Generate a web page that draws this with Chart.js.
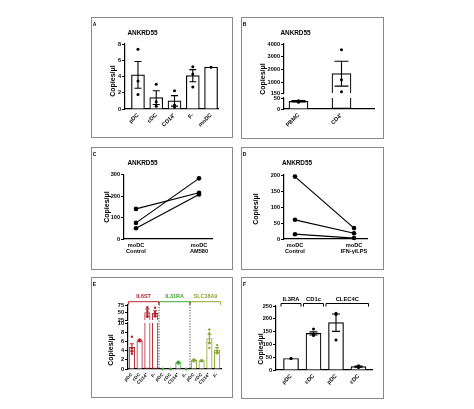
<!DOCTYPE html>
<html>
<head>
<meta charset="utf-8">
<script src="https://cdn.jsdelivr.net/npm/chart.js@4.4.1/dist/chart.umd.min.js"></script>
<style>
  html, body { margin: 0; padding: 0; background: #fff; }
  body { position: relative; width: 474px; height: 409px; overflow: hidden; font-family: "Liberation Sans", Arial, sans-serif; }
  canvas { position: absolute; }
  .box { position: absolute; border: 1px solid #8a8a8a; box-sizing: border-box; }
  .lbl { position: absolute; transform: translate(-50%, -50%); font-weight: bold; white-space: nowrap; line-height: 1; color: #000; }
  .letter { font-size: 5px; }
  .title { font-size: 6.4px; }
  .ytitle { font-size: 7px; transform: translate(-50%, -50%) rotate(-90deg); }
</style>
</head>
<body>
<script>
// A: ANKRD55 copies per subset
const aLabels = ["pDC", "cDC", "CD14⁺", "F-", "moDC"];
const aMeans = [4.2, 1.4, 1.0, 4.1, 5.15];
const aSems = [1.65, 0.85, 0.65, 0.75, 0];
const aPoints = [[7.35, 3.45, 1.8], [3.05, 0.9, 0.35], [2.25, 0.5, 0.2], [5.2, 4.3, 2.7], [5.15]];
const aTicks = [0, 2, 4, 6, 8];

// B: PBMC vs CD4+ (broken axis)
const bLabels = ["PBMC", "CD4⁺"];
const bMeans = [35, 1670];
const bSems = [3, 980];
const bPoints = [[31, 38, 36], [3550, 1200, 250]];
const bLowTicks = [0, 50];
const bHighTicks = [150, 1000, 2000, 3000, 4000];

// C: moDC control vs AM580, one line per donor
const cLabels = [["moDC", "Control"], ["moDC", "AM580"]];
const cDonors = [[140, 215], [75, 282], [50, 207]];
const cTicks = [0, 100, 200, 300];

// D: moDC control vs IFN-γ/LPS
const dLabels = [["moDC", "Control"], ["moDC", "IFN-γ/LPS"]];
const dDonors = [[195, 34], [60, 18], [15, 3]];
const dTicks = [0, 50, 100, 150, 200];

// E: three genes x four subsets (broken axis)
const eGenes = ["IL6ST", "IL31RA", "SLC38A9"];
const eGeneColors = ["#b3242f", "#3fa535", "#8ba731"];
const eLabels = ["pDC", "cDC", "CD14⁺", "F-", "pDC", "cDC", "CD14⁺", "F-", "pDC", "cDC", "CD14⁺", "F-"];
const eMeans = [4.7, 6.2, 50, 47, 0, 0, 1.4, 0, 1.9, 1.8, 6.6, 4.1];
const eSems = [0.8, 0.15, 12, 9, 0, 0, 0.12, 0, 0.15, 0.1, 0.9, 0.55];
const ePoints = [[7.0, 4.5, 3.8, 3.3], [6.4, 6.2, 6.0], [68, 55, 45, 35], [66, 52, 44, 37],
  [0, 0, 0], [0, 0, 0], [1.6, 1.4, 1.2], [0, 0, 0],
  [2.1, 1.8, 1.7], [1.9, 1.8, 1.7], [8.6, 7.8, 5.6, 4.6], [5.2, 3.8, 3.4]];
const eLowTicks = [0, 2, 4, 6, 8, 10];
const eHighTicks = [25, 50, 75];

// F: marker genes in pDC / cDC
const fGenes = ["IL3RA", "CD1c", "CLEC4C"];
const fGeneSpans = [[0, 0], [1, 1], [2, 3]];
const fLabels = ["pDC", "cDC", "pDC", "cDC"];
const fMeans = [45, 143, 185, 13];
const fSems = [0, 6, 34, 2];
const fPoints = [[45, 45], [160, 140, 138, 135], [222, 217, 117], [17, 12, 10]];
const fTicks = [0, 50, 100, 150, 200, 250];

const INK = "#000";
Chart.defaults.font.family = '"Liberation Sans", Arial, sans-serif';
Chart.defaults.font.weight = "bold";
Chart.defaults.color = INK;
Chart.defaults.animation = false;

function addText(cls, text, x, y, color) {
  const el = document.createElement("div");
  el.className = "lbl " + cls;
  el.textContent = text;
  el.style.left = x + "px";
  el.style.top = y + "px";
  if (color) el.style.color = color;
  document.body.appendChild(el);
}

function makePanel(g, letter, title) {
  const cv = document.createElement("canvas");
  cv.width = g.w;
  cv.height = g.h;
  Object.assign(cv.style, { left: g.x + "px", top: g.y + "px", width: g.w + "px", height: g.h + "px" });
  document.body.appendChild(cv);
  const frame = document.createElement("div");
  frame.className = "box";
  Object.assign(frame.style, { left: g.x + "px", top: g.y + "px", width: g.w + "px", height: g.h + "px" });
  document.body.appendChild(frame);
  addText("letter", letter, g.x + 3.5, g.y + 7);
  if (title) addText("title", title, g.titleX, g.y + 16);
  addText("ytitle", "Copies/μl", g.yTitle[0], g.yTitle[1]);
  return cv;
}

function dotsOf(points, keep = () => true) {
  return points.flatMap((vals, i) => vals.filter(keep).map((v) => ({ x: i, y: v })));
}

function valueAxis(g, min, max, ticks, extra = {}) {
  return Object.assign({
    type: "linear",
    position: "left",
    min,
    max,
    afterFit: (s) => { s.width = g.left - g.x; },
    afterBuildTicks: (s) => { s.ticks = ticks.map((v) => ({ value: v })); },
    border: { display: true, color: INK, width: 1.2 },
    grid: { display: true, drawOnChartArea: false, drawTicks: true, tickLength: 3, color: INK, lineWidth: 1 },
    ticks: { autoSkip: false, padding: 1, color: INK, font: { size: 5.6, weight: "bold" }, callback: (v) => String(v) }
  }, extra);
}

function indexAxis(g, labels, min, max, rotation, size = 5.6) {
  return {
    type: "linear",
    position: "bottom",
    min,
    max,
    offset: false,
    afterFit: (s) => { s.height = g.y + g.h - g.bottom; },
    afterBuildTicks: (s) => { s.ticks = labels.map((_, i) => ({ value: i })); },
    border: { display: true, color: INK, width: 1.2 },
    grid: { display: false, offset: false, drawTicks: true, tickLength: 2 },
    ticks: {
      autoSkip: false,
      minRotation: rotation,
      maxRotation: rotation,
      padding: 1,
      color: INK,
      font: { size, weight: "bold", lineHeight: 1.15 },
      callback: (v) => labels[v]
    }
  };
}

function baseOptions(g, scales, pluginOpts = {}) {
  return {
    responsive: false,
    animation: false,
    layout: { padding: { left: 0, top: g.top - g.y, right: g.x + g.w - g.right, bottom: 0 } },
    scales,
    plugins: Object.assign({ legend: { display: false }, tooltip: { enabled: false } }, pluginOpts)
  };
}

// mean +/- SEM whiskers, drawn through the chart's own scales
const errorBars = {
  id: "errorBars",
  afterDatasetsDraw(chart, args, opts) {
    const { ctx } = chart;
    const xs = chart.scales.x;
    ctx.save();
    ctx.lineWidth = 1.1;
    (opts.items || []).forEach((it) => {
      if (!it.sem) return;
      const ys = chart.scales[it.axis];
      const x = xs.getPixelForValue(it.x);
      const top = ys.getPixelForValue(it.mean + it.sem);
      const bot = ys.getPixelForValue(Math.max(it.mean - it.sem, ys.min));
      const cap = opts.cap;
      ctx.strokeStyle = it.color || INK;
      ctx.beginPath();
      ctx.moveTo(x, top); ctx.lineTo(x, bot);
      ctx.moveTo(x - cap, top); ctx.lineTo(x + cap, top);
      ctx.moveTo(x - cap, bot); ctx.lineTo(x + cap, bot);
      ctx.stroke();
    });
    ctx.restore();
  }
};

// gene name + bracket over groups of bars
const geneBrackets = {
  id: "geneBrackets",
  afterDraw(chart, args, opts) {
    if (!opts.groups) return;
    const { ctx, chartArea } = chart;
    const xs = chart.scales.x;
    ctx.save();
    ctx.lineWidth = 1;
    ctx.font = `bold ${opts.size}px "Liberation Sans", Arial, sans-serif`;
    ctx.textAlign = "center";
    ctx.textBaseline = "middle";
    opts.groups.forEach((grp) => {
      const x0 = xs.getPixelForValue(grp.from) - opts.half;
      const x1 = xs.getPixelForValue(grp.to) + opts.half;
      ctx.strokeStyle = grp.color;
      ctx.beginPath();
      ctx.moveTo(x0, opts.lineY + 3);
      ctx.lineTo(x0, opts.lineY);
      ctx.lineTo(x1, opts.lineY);
      ctx.lineTo(x1, opts.lineY + 3);
      ctx.stroke();
      ctx.fillStyle = grp.color;
      ctx.fillText(grp.label, (x0 + x1) / 2, opts.textY);
    });
    if (opts.dividers) {
      ctx.strokeStyle = "#444";
      ctx.setLineDash([1.2, 1.5]);
      opts.dividers.forEach((d) => {
        const x = (xs.getPixelForValue(d) + xs.getPixelForValue(d + 1)) / 2;
        ctx.beginPath();
        ctx.moveTo(x, opts.lineY);
        ctx.lineTo(x, chartArea.bottom);
        ctx.stroke();
      });
    }
    ctx.restore();
  }
};

const dotStyle = { type: "scatter", pointRadius: 1.5, pointBorderWidth: 0, backgroundColor: INK, clip: false, order: 0 };
const barStyle = { backgroundColor: "#fff", borderColor: INK, borderWidth: 1.2, grouped: false, order: 2 };

// ---------- A ----------
const gA = { x: 91, y: 17, w: 142, h: 121, left: 125, right: 218, top: 44, bottom: 109, titleX: 142.5, yTitle: [112, 81] };
new Chart(makePanel(gA, "A", "ANKRD55"), {
  type: "bar",
  data: {
    datasets: [
      Object.assign({}, dotStyle, { data: dotsOf(aPoints) }),
      Object.assign({}, barStyle, { data: aMeans.map((v, i) => ({ x: i, y: v })), barThickness: 13 })
    ]
  },
  options: baseOptions(gA, {
    x: indexAxis(gA, aLabels, -0.71, 4.38, 45),
    y: valueAxis(gA, 0, 8, aTicks)
  }, { errorBars: { cap: 3.5, items: aMeans.map((m, i) => ({ x: i, mean: m, sem: aSems[i], axis: "y" })) } }),
  plugins: [errorBars]
});

// ---------- B ----------
const gB = { x: 241, y: 17, w: 143, h: 122, left: 284, right: 374, top: 44, bottom: 109, titleX: 295.5, yTitle: [262, 79] };
const bLowMax = bLowTicks[bLowTicks.length - 1];
const bHighMin = bHighTicks[0];
new Chart(makePanel(gB, "B", "ANKRD55"), {
  type: "bar",
  data: {
    datasets: [
      Object.assign({}, dotStyle, { data: dotsOf(bPoints, (v) => v <= bLowMax), yAxisID: "yLow" }),
      Object.assign({}, dotStyle, { data: dotsOf(bPoints, (v) => v >= bHighMin), yAxisID: "yHigh" }),
      Object.assign({}, barStyle, {
        data: bMeans.map((v, i) => ({ x: i, y: Math.min(v, bLowMax) })),
        yAxisID: "yLow",
        barThickness: 19,
        borderSkipped: (ctx) => (bMeans[ctx.dataIndex] > bLowMax ? "top" : "start")
      }),
      Object.assign({}, barStyle, {
        data: bMeans.map((v, i) => ({ x: i, y: [bHighMin, v] })).filter((d) => d.y[1] > bHighMin),
        yAxisID: "yHigh",
        barThickness: 19,
        borderSkipped: "bottom"
      })
    ]
  },
  options: baseOptions(gB, {
    x: indexAxis(gB, bLabels, -0.337, 1.756, 45),
    yLow: valueAxis(gB, 0, bLowMax, bLowTicks, { stack: "b", stackWeight: 11, weight: 1 }),
    yGap: { type: "linear", display: false, position: "left", stack: "b", stackWeight: 5, weight: 2, min: 0, max: 1 },
    yHigh: valueAxis(gB, bHighMin, 4000, bHighTicks, { stack: "b", stackWeight: 49, weight: 3 })
  }, {
    errorBars: { cap: 7, items: bMeans.map((m, i) => ({ x: i, mean: m, sem: bSems[i], axis: m > bLowMax ? "yHigh" : "yLow" })) }
  }),
  plugins: [errorBars]
});

// ---------- C & D (paired lines) ----------
function pairedPanel(g, letter, labels, donors, max, ticks, xMin, xMax) {
  return new Chart(makePanel(g, letter, "ANKRD55"), {
    type: "scatter",
    data: {
      datasets: donors.map((d) => ({
        data: d.map((v, i) => ({ x: i, y: v })),
        showLine: true,
        borderColor: INK,
        backgroundColor: INK,
        borderWidth: 1.2,
        pointRadius: 2.3,
        pointBorderWidth: 0,
        clip: false
      }))
    },
    options: baseOptions(g, {
      x: indexAxis(g, labels, xMin, xMax, 0),
      y: valueAxis(g, 0, max, ticks)
    })
  });
}

const gC = { x: 91, y: 147, w: 142, h: 123, left: 124, right: 212, top: 174.5, bottom: 239, titleX: 142.5, yTitle: [105.5, 207] };
pairedPanel(gC, "C", cLabels, cDonors, 300, cTicks, -0.19, 1.206);

const gD = { x: 241, y: 147, w: 143, h: 123, left: 284, right: 367, top: 175, bottom: 239, titleX: 297, yTitle: [255, 209] };
pairedPanel(gD, "D", dLabels, dDonors, 200, dTicks, -0.186, 1.22);

// ---------- E ----------
const gE = { x: 91, y: 277, w: 142, h: 121, left: 128, right: 221, top: 305, bottom: 369, yTitle: [109.5, 350] };
const eLowMax = eLowTicks[eLowTicks.length - 1];
const eHighMin = eHighTicks[0];
const eColorOf = (i) => eGeneColors[Math.floor(i / 4)];
const eDot = (ctx) => eColorOf(ctx.raw ? ctx.raw.x : 0);
new Chart(makePanel(gE, "E", null), {
  type: "bar",
  data: {
    datasets: [
      Object.assign({}, dotStyle, { data: dotsOf(ePoints, (v) => v <= eLowMax), yAxisID: "yLow", pointRadius: 1.2, backgroundColor: eDot }),
      Object.assign({}, dotStyle, { data: dotsOf(ePoints, (v) => v >= eHighMin), yAxisID: "yHigh", pointRadius: 1.2, backgroundColor: eDot }),
      Object.assign({}, barStyle, {
        data: eMeans.map((v, i) => ({ x: i, y: Math.min(v, eLowMax) })),
        yAxisID: "yLow",
        barThickness: 5.5,
        borderWidth: 1,
        borderColor: eMeans.map((_, i) => eColorOf(i)),
        borderSkipped: (ctx) => (eMeans[ctx.dataIndex] > eLowMax ? "top" : "start")
      }),
      Object.assign({}, barStyle, {
        data: eMeans.map((v, i) => ({ x: i, y: [eHighMin, v] })).filter((d) => d.y[1] > eHighMin),
        yAxisID: "yHigh",
        barThickness: 5.5,
        borderWidth: 1,
        borderColor: eGeneColors[0],
        borderSkipped: "bottom"
      })
    ]
  },
  options: baseOptions(gE, {
    x: indexAxis(gE, eLabels, -0.5, 11.5, 45, 4.6),
    yLow: valueAxis(gE, 0, eLowMax, eLowTicks, { stack: "e", stackWeight: 46, weight: 1 }),
    yGap: { type: "linear", display: false, position: "left", stack: "e", stackWeight: 3, weight: 2, min: 0, max: 1 },
    yHigh: valueAxis(gE, eHighMin, 75, eHighTicks, { stack: "e", stackWeight: 15, weight: 3 })
  }, {
    errorBars: {
      cap: 2,
      items: eMeans.map((m, i) => ({ x: i, mean: m, sem: eSems[i], axis: m > eLowMax ? "yHigh" : "yLow", color: eColorOf(i) }))
    },
    geneBrackets: {
      size: 5.4, half: 3.5, lineY: 24.7, textY: 19.5, dividers: [3, 7],
      groups: eGenes.map((name, k) => ({ label: name, from: k * 4, to: k * 4 + 3, color: eGeneColors[k] }))
    }
  }),
  plugins: [errorBars, geneBrackets]
});

// ---------- F ----------
const gF = { x: 241, y: 277, w: 143, h: 122, left: 276, right: 372, top: 306, bottom: 370, yTitle: [259.5, 349] };
new Chart(makePanel(gF, "F", null), {
  type: "bar",
  data: {
    datasets: [
      Object.assign({}, dotStyle, { data: dotsOf(fPoints) }),
      Object.assign({}, barStyle, { data: fMeans.map((v, i) => ({ x: i, y: v })), barThickness: 15 })
    ]
  },
  options: baseOptions(gF, {
    x: indexAxis(gF, fLabels, -0.667, 3.6, 45),
    y: valueAxis(gF, 0, 250, fTicks)
  }, {
    errorBars: { cap: 4, items: fMeans.map((m, i) => ({ x: i, mean: m, sem: fSems[i], axis: "y" })) },
    geneBrackets: {
      size: 5.8, half: 10, lineY: 26.5, textY: 22,
      groups: fGenes.map((name, k) => ({ label: name, from: fGeneSpans[k][0], to: fGeneSpans[k][1], color: INK }))
    }
  }),
  plugins: [errorBars, geneBrackets]
});
</script>
</body>
</html>
